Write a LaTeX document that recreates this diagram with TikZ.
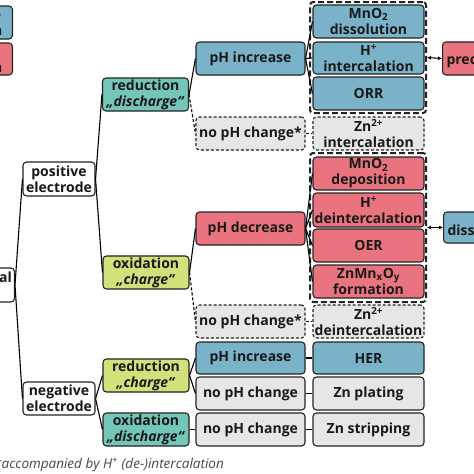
\documentclass[tikz,border=0pt]{standalone}
\usepackage{fontspec}
\setmainfont{Open Sans}
\usetikzlibrary{arrows.meta}
\definecolor{blueF}{RGB}{122,179,201}
\definecolor{redF}{RGB}{233,116,128}
\definecolor{tealF}{RGB}{116,199,184}
\definecolor{yelF}{RGB}{212,225,122}
\definecolor{grayF}{RGB}{230,230,230}
\definecolor{bord}{RGB}{35,35,35}
\definecolor{txt}{RGB}{25,25,25}
\definecolor{footc}{RGB}{70,70,70}
\newcommand\fsz{\fontsize{14}{16}\selectfont}
\begin{document}
\begin{tikzpicture}[x=1pt,y=-1pt,
 bx/.style={draw=bord, line width=1.1pt, rounded corners=3.5pt, inner sep=0pt, align=center, font=\fsz\bfseries, text=txt, minimum height=33pt},
 c1/.style={bx, minimum width=86pt},
 c2/.style={bx, minimum width=109pt},
 c3/.style={bx, minimum width=111pt},
 gdash/.style={fill=grayF, dash pattern=on 3pt off 2pt},
 grp/.style={draw=bord, line width=2pt, dash pattern=on 6pt off 3pt, rounded corners=3pt, inner sep=0pt},
 ln/.style={draw=black, line width=1.1pt},
 dln/.style={ln, dash pattern=on 3pt off 2pt},
 dar/.style={ln, {Latex[length=4pt,width=4pt]}-{Latex[length=4pt,width=4pt]}},
]
\useasboundingbox (0,0) rectangle (474,474);
\clip (0,0) rectangle (474,474);
\fill[white] (0,0) rectangle (474,474);

% legend and root (cropped)
\node[bx, fill=blueF, anchor=east, inner xsep=10pt] (l1) at (13,22.5) {alkaline\\reaction};
\node[bx, fill=redF, anchor=east, inner xsep=10pt, minimum height=32pt] (l2) at (13,59) {acidic\\reaction};
\node[bx, fill=white, anchor=east, inner xsep=2.5pt, minimum height=34pt] (root) at (15,285) {electrochemical\\reaction};

% electrodes
\node[bx, fill=white, minimum width=72pt, minimum height=34pt] (pos) at (59,179) {positive\\electrode};
\node[bx, fill=white, minimum width=72pt] (neg) at (59,398.5) {negative\\electrode};

% column 1
\node[c1, fill=tealF] (redD) at (145.5,94.5) {reduction\\\textit{„discharge“}};
\node[c1, fill=yelF] (oxC) at (146,272.5) {oxidation\\\textit{„charge“}};
\node[c1, fill=yelF] (redC) at (146,375.5) {reduction\\\textit{„charge“}};
\node[c1, fill=tealF] (oxD) at (146,429.5) {oxidation\\\textit{„discharge“}};

% column 2
\node[c2, fill=blueF] (pi1) at (250.5,58.5) {pH increase};
\node[c2, gdash] (np1) at (250.5,133.5) {no pH change*};
\node[c2, fill=redF] (pd) at (250.5,228.5) {pH decrease};
\node[c2, gdash] (np2) at (250.5,321.5) {no pH change*};
\node[c2, fill=blueF, minimum height=32pt] (pi2) at (250.5,358) {pH increase};
\node[c2, fill=grayF] (np3) at (250.5,393.5) {no pH change};
\node[c2, fill=grayF] (np4) at (250.5,429.5) {no pH change};

% column 3
\node[c3, fill=blueF] (mdis) at (368.5,21.5) {MnO\textsubscript{2}\\dissolution};
\node[c3, fill=blueF, minimum height=32pt] (hin) at (368.5,58) {H\textsuperscript{+}\\intercalation};
\node[c3, fill=blueF] (orr) at (368.5,93.5) {ORR};
\node[c3, gdash] (zin) at (368.5,133.5) {Zn\textsuperscript{2+}\\intercalation};
\node[c3, fill=redF] (mdep) at (368.5,173.5) {MnO\textsubscript{2}\\deposition};
\node[c3, fill=redF, minimum height=34pt] (hde) at (368.5,210) {H\textsuperscript{+}\\deintercalation};
\node[c3, fill=redF] (oer) at (368.5,245.5) {OER};
\node[c3, fill=redF] (znm) at (368.5,281.5) {ZnMn\textsubscript{x}O\textsubscript{y}\\formation};
\node[c3, gdash] (zde) at (368.5,321.5) {Zn\textsuperscript{2+}\\deintercalation};
\node[c3, fill=blueF, minimum height=32pt] (her) at (368.5,358) {HER};
\node[c3, fill=grayF] (znp) at (368.5,393.5) {Zn plating};
\node[c3, fill=grayF] (zns) at (368.5,429.5) {Zn stripping};

% dashed groups
\node[grp, minimum width=116pt, minimum height=111pt] (g1) at (368,57.5) {};
\node[grp, minimum width=116pt, minimum height=149pt] (g2) at (368,227.5) {};

% right (cropped)
\node[bx, fill=redF, anchor=west, inner xsep=4pt] (prec) at (442,58.5) {\mbox{}\\precipitation};
\node[bx, fill=blueF, anchor=west, inner xsep=4pt, minimum height=31pt] (diss) at (443,227.5) {\mbox{}\\dissolution};

% footnote
\node[anchor=east, font=\fontsize{13.5}{15}\selectfont\itshape, text=footc, inner sep=0pt] (fn) at (224,465) {*accompanied by H\textsuperscript{+} (de-)intercalation};

% connectors
\draw[ln] (root.east) -- (pos.west);
\draw[ln] (root.east) -- (neg.west);
\draw[ln] (pos.east) -- (redD.west);
\draw[ln] (pos.east) -- (oxC.west);
\draw[ln] (redD.east) -- (pi1.west);
\draw[dln] (redD.east) -- (np1.west);
\draw[ln] (oxC.east) -- (pd.west);
\draw[dln] (oxC.east) -- (np2.west);
\draw[ln] (pi1.east) -- (mdis.west);
\draw[ln] (pi1.east) -- (hin.west);
\draw[ln] (pi1.east) -- (orr.west);
\draw[dln] (np1.east) -- (zin.west);
\draw[ln] (pd.east) -- (mdep.west);
\draw[ln] (pd.east) -- (hde.west);
\draw[ln] (pd.east) -- (oer.west);
\draw[ln] (pd.east) -- (znm.west);
\draw[dln] (np2.east) -- (zde.west);
\draw[ln] (neg.east) -- (redC.west);
\draw[ln] (neg.east) -- (oxD.west);
\draw[ln] (redC.east) -- (pi2.west);
\draw[ln] (redC.east) -- (np3.west);
\draw[ln] (oxD.east) -- (np4.west);
\draw[ln] (pi2.east) -- (her.west);
\draw[ln] (np3.east) -- (znp.west);
\draw[ln] (np4.east) -- (zns.west);
\draw[dar] (g1.east) -- (prec.west);
\draw[dar] (g2.east) -- (diss.west);
\end{tikzpicture}
\end{document}
